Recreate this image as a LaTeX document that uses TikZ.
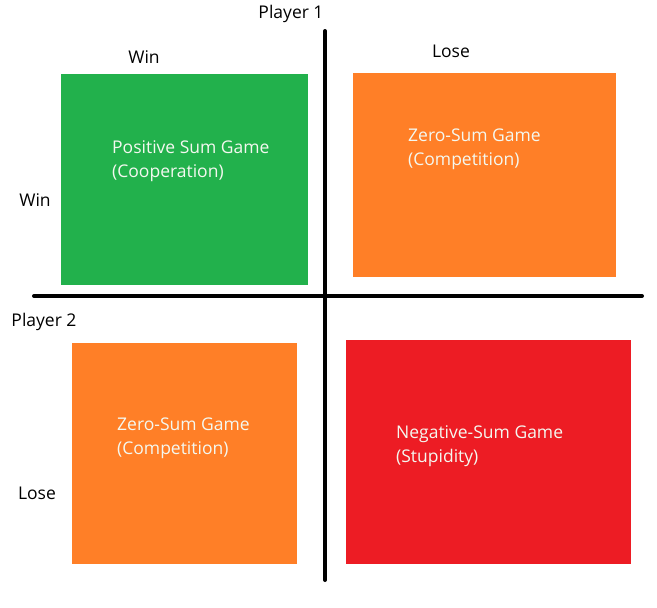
\documentclass[tikz,border=0pt]{standalone}
\usepackage{fontspec}
\setmainfont{Open Sans}
\definecolor{pgreen}{HTML}{22B14C}
\definecolor{porange}{HTML}{FF7F27}
\definecolor{pred}{HTML}{ED1C24}
\definecolor{ptext}{HTML}{F4F8F0}
\begin{document}
\begin{tikzpicture}[x=1pt,y=-1pt,
  quad/.style={draw=none,inner sep=0pt,anchor=north west},
  axis/.style={line width=4pt,line cap=round,black},
  lbl/.style={font=\fontsize{17.5}{20}\selectfont,inner sep=0pt},
  intext/.style={font=\fontsize{17.5}{24}\selectfont,text=ptext,align=left,inner sep=0pt,anchor=west}]
\useasboundingbox (0,0) rectangle (657,608);
\fill[white] (0,0) rectangle (657,608);
% quadrants
\node[quad,fill=pgreen,minimum width=247pt,minimum height=211pt] (q1) at (61,74) {};
\node[quad,fill=porange,minimum width=263pt,minimum height=204pt] (q2) at (353,73) {};
\node[quad,fill=porange,minimum width=225pt,minimum height=221pt] (q3) at (72,343) {};
\node[quad,fill=pred,minimum width=285pt,minimum height=224pt] (q4) at (346,340) {};
% axes
\coordinate (vt) at (325,31);
\coordinate (vb) at (325,580);
\coordinate (hl) at (34,296);
\coordinate (hr) at (642,296);
\draw[axis] (vt) -- (vb);
\draw[axis] (hl) -- (hr);
% labels
\node[lbl] (p1) at (291,14) {Player 1};
\node[lbl] (w1) at (144,57) {Win};
\node[lbl] (l1) at (451,51) {Lose};
\node[lbl] (w2) at (35,200) {Win};
\node[lbl] (p2) at (44,322) {Player 2};
\node[lbl] (l2) at (37,493) {Lose};
% inner texts
\node[intext] (t1) at (112,161) {Positive Sum Game\\(Cooperation)};
\node[intext] (t2) at (408,149) {Zero-Sum Game\\(Competition)};
\node[intext] (t3) at (117,438) {Zero-Sum Game\\(Competition)};
\node[intext] (t4) at (396,446) {Negative-Sum Game\\(Stupidity)};
\end{tikzpicture}
\end{document}
